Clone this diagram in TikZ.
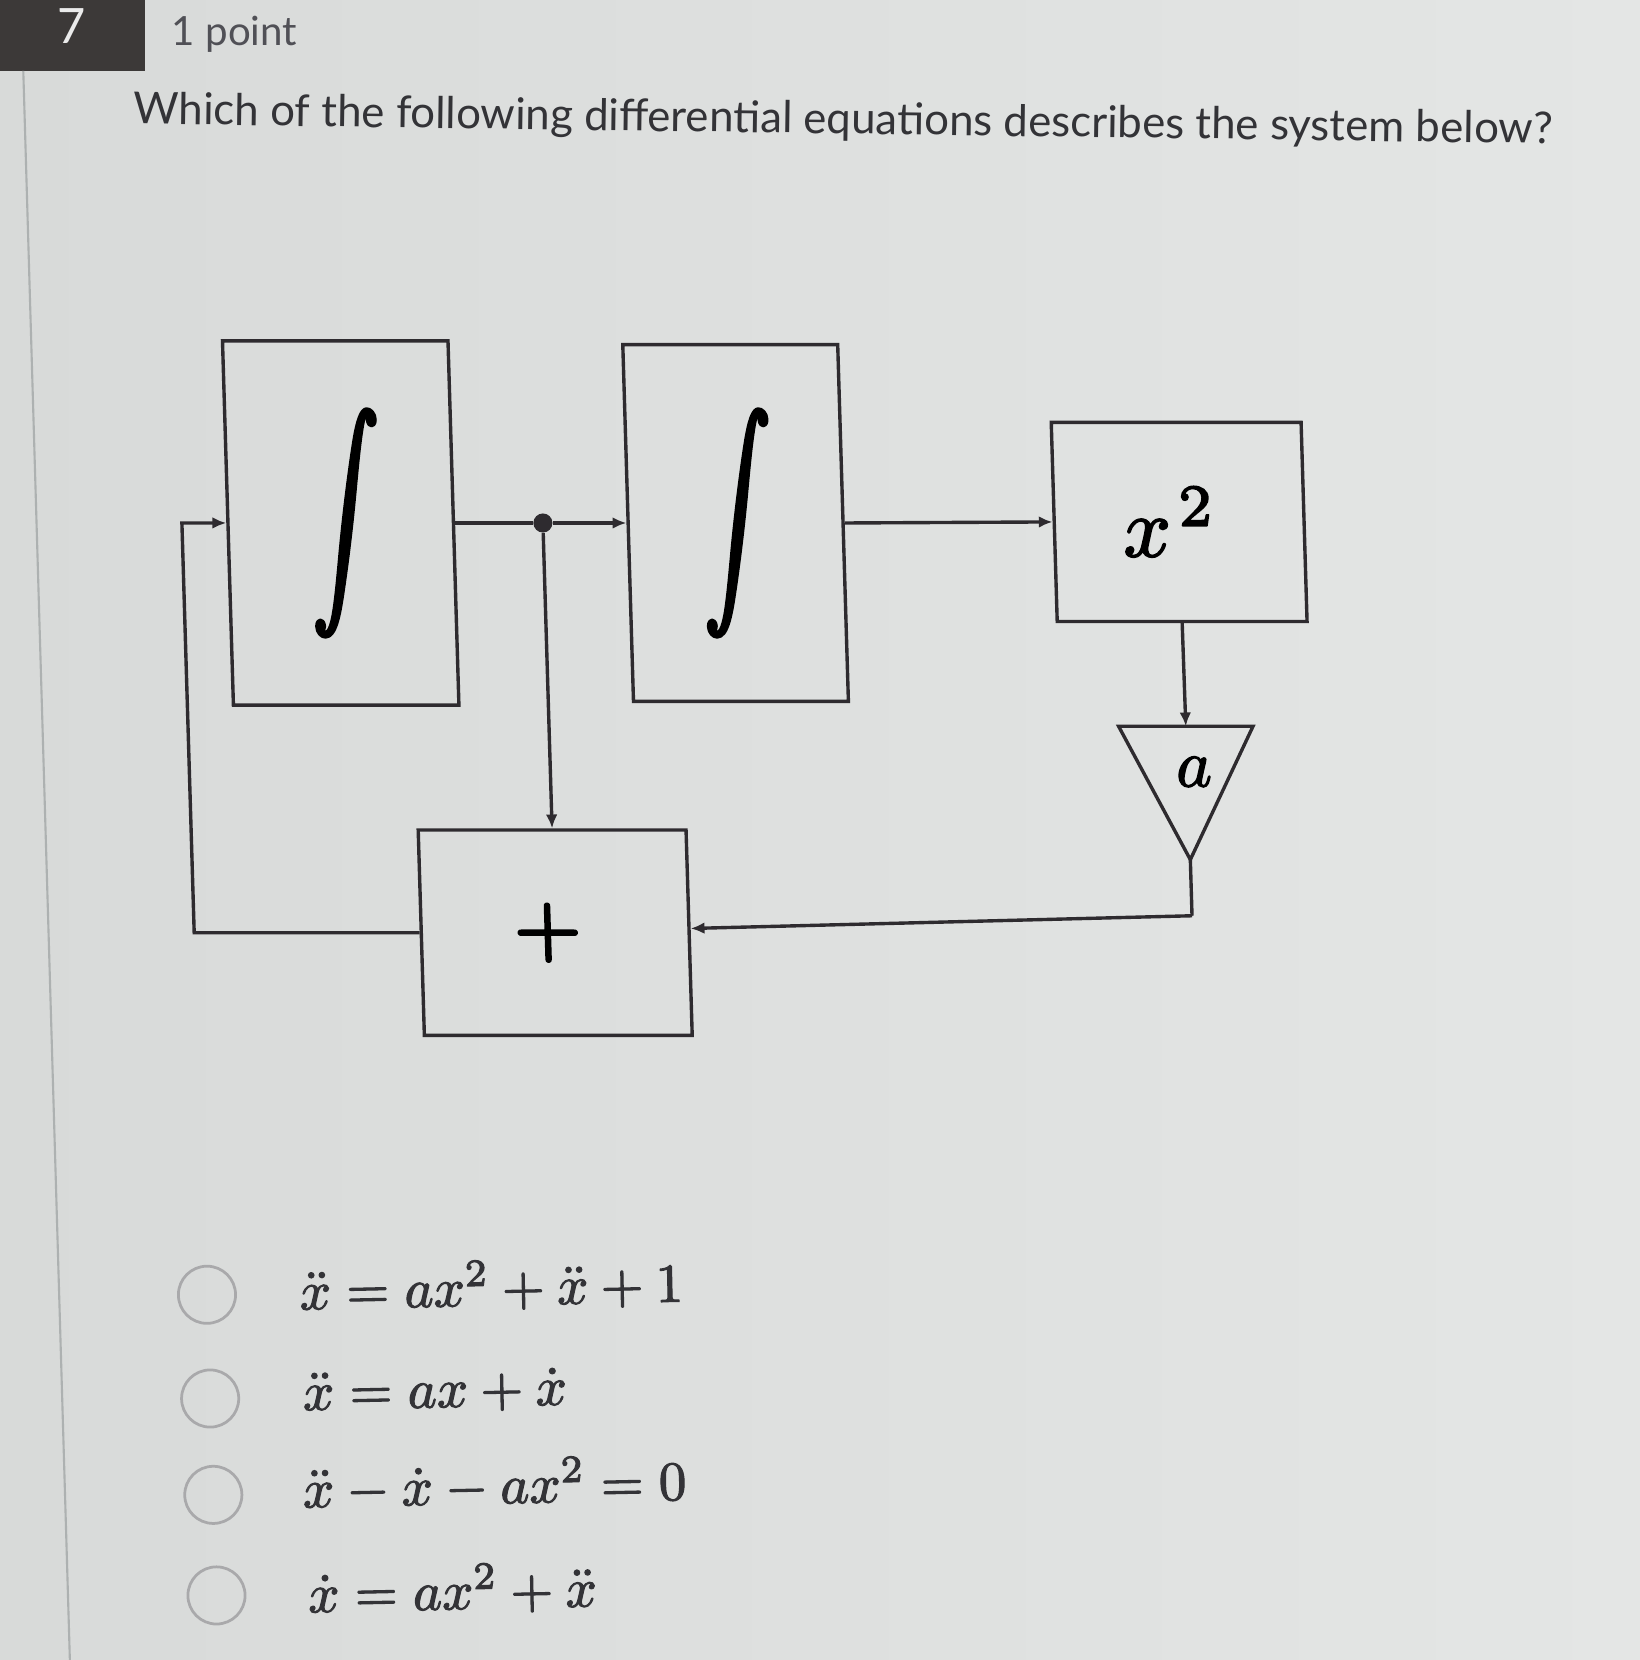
\documentclass[tikz,border=0pt]{standalone}
\usepackage{amsmath}
\usepackage{graphicx}
\usepackage{fontspec}
\setmainfont{Lato}
\usetikzlibrary{arrows.meta,calc}
\definecolor{bgL}{HTML}{D8DAD9}
\definecolor{bgR}{HTML}{E4E6E5}
\definecolor{ink}{HTML}{2E2B2F}
\definecolor{txt}{HTML}{333337}
\definecolor{ptxt}{HTML}{505056}
\definecolor{hdr}{HTML}{3C3938}
\definecolor{radio}{HTML}{A9A9AB}
\definecolor{rulec}{HTML}{ADB1B1}
% fill-and-stroke text rendering to make glyph strokes heavier
\newcommand\heavy[2]{\special{pdf:literal direct #1 w 1 j 2 Tr}#2\special{pdf:literal direct 0 Tr}}
\begin{document}
\begin{tikzpicture}[x=0.5pt,y=-0.5pt,
  wire/.style={draw=ink,line width=1.6pt},
  arr/.style={wire,-{Latex[length=6.5pt,width=5.5pt]}},
  blockbox/.style={draw=ink,line width=1.6pt,rectangle,inner sep=0pt,transform shape},
  radiobtn/.style={circle,draw=radio,line width=1.3pt,minimum size=27pt,inner sep=0pt},
  eqn/.style={anchor=base west,inner sep=0pt,rotate=1.2,text=txt}]
\useasboundingbox (0,0) rectangle (1549,1568);
\shade[left color=bgL,right color=bgR] (0,0) rectangle (1549,1568);
% header
\fill[hdr] (0,0) rectangle (137,67);
\node[anchor=base,inner sep=0pt,text=white!92!black,font=\fontsize{23}{23}\selectfont] (qnum) at (68,41) {7};
\node[anchor=base west,inner sep=0pt,text=ptxt,font=\fontsize{19}{19}\selectfont] (pts) at (162,43) {1 point};
\draw[rulec,line width=1pt] (22,67) -- (66,1568);
\node[anchor=base west,inner sep=0pt,rotate=-0.8,text=txt,font=\fontsize{20.7}{20.7}\selectfont] (q) at (126,117) {Which of the following differential equations describes the system below?};
% diagram
\begin{scope}[cm={1,0,-0.03,1,(0,0)}]
\node[blockbox,minimum width=106.5pt,minimum height=172pt] (int1) at (307,494) {\hspace*{5pt}\scalebox{3.4}[4.8]{\heavy{0.55}{$\displaystyle\int$}}};
\node[blockbox,minimum width=101.5pt,minimum height=168.5pt] (int2) at (680,494) {\hspace*{2pt}\scalebox{3.4}[4.8]{\heavy{0.55}{$\displaystyle\int$}}};
\node[blockbox,minimum width=118pt,minimum height=94pt] (sq) at (1099,493) {\scalebox{4}{\heavy{0.2}{$x^{\mkern2mu 2}$}}\hspace*{9pt}};
\node[blockbox,minimum width=126.5pt,minimum height=97pt] (plus) at (498,881) {\raisebox{-5pt}{\scalebox{4.1}{\heavy{0.35}{$+$}}}\hspace*{7pt}};
\node[circle,fill=ink,inner sep=0pt,minimum size=9pt] (dot) at (498,494) {};
\coordinate (tl) at (1036,686);
\coordinate (tr) at (1163,686);
\coordinate (tip) at (1100,812);
\coordinate (tritop) at (1099.5,686);
\draw[wire,line join=miter] (tl) -- (tr) -- (tip) -- cycle;
\node[transform shape,inner sep=0pt] (gain) at (1106,729) {\scalebox{3.2}{\heavy{0.2}{$a$}}};
\coordinate (fbl) at (157,881);
\coordinate (ftl) at (157,494);
\coordinate (rbc) at (1100,865);
\draw[arr] (plus.west) -- (fbl) -- (ftl) -- (int1.west);
\draw[wire] (int1.east) -- (dot);
\draw[arr] (dot) -- (int2.west);
\draw[arr] (dot) -- (plus.north);
\draw[arr] (int2.east) -- (sq.west);
\draw[arr] (sq.south) -- (tritop);
\draw[wire] (tip) -- (rbc);
\draw[arr] (rbc) -- ($(plus.east)+(0,-4)$);
\end{scope}
% answers
\node[radiobtn] (r1) at (195.5,1223) {};
\node[radiobtn] (r2) at (198.5,1321) {};
\node[radiobtn] (r3) at (201.5,1412) {};
\node[radiobtn] (r4) at (204.5,1507) {};
\node[eqn] (e1) at (283,1237) {\scalebox{2.6}{\heavy{0.2}{$\ddot{x} = ax^2 + \ddot{x} + 1$}}};
\node[eqn] (e2) at (286,1332) {\scalebox{2.6}{\heavy{0.2}{$\ddot{x} = ax + \dot{x}$}}};
\node[eqn] (e3) at (286,1424) {\scalebox{2.6}{\heavy{0.2}{$\ddot{x} - \dot{x} - ax^2 = 0$}}};
\node[eqn] (e4) at (291,1523) {\scalebox{2.6}{\heavy{0.2}{$\dot{x} = ax^2 + \ddot{x}$}}};
\end{tikzpicture}
\end{document}
